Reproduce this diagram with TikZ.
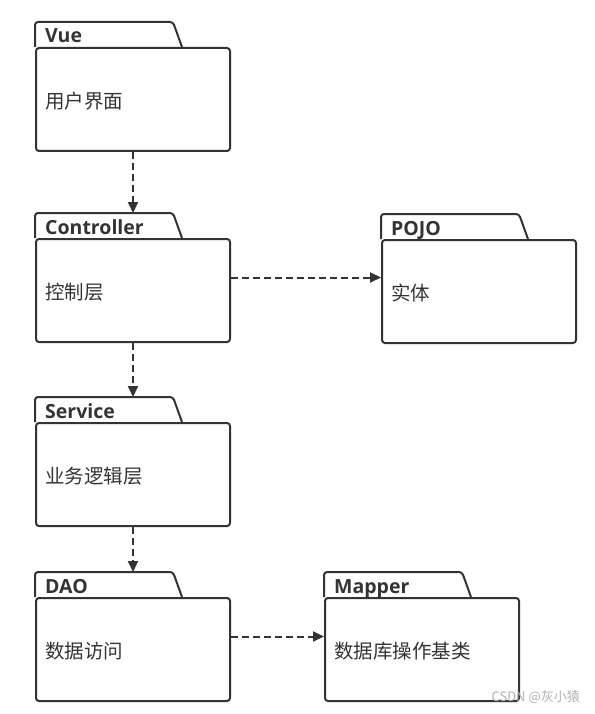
\documentclass[tikz,border=0pt]{standalone}
\usepackage{fontspec}
\setmainfont{Noto Sans CJK SC}
\newfontfamily\titlefont{Open Sans}
\usetikzlibrary{arrows.meta}
\definecolor{ink}{HTML}{333333}
\begin{document}
\begin{tikzpicture}[x=1pt,y=-1pt,
  box/.style={draw=ink, line width=2pt, rounded corners=3pt, minimum width=194pt, minimum height=103pt, anchor=north west, inner sep=0pt},
  tab/.style={draw=ink, line width=2pt, rounded corners=3pt},
  ttl/.style={anchor=base west, inner sep=0pt, text=ink, font=\titlefont\bfseries\fontsize{19.5}{22}\selectfont},
  lbl/.style={anchor=west, inner sep=0pt, text=ink, font=\fontsize{19.5}{22}\selectfont},
  dep/.style={draw=ink, line width=2pt, dash pattern=on 7pt off 4pt, -{Triangle[length=11pt,width=10pt]}}]
\useasboundingbox (0,0) rectangle (594,714);
% packages
\newcommand\pkgbox[5]{% name, x, y(body top), title, label
  \node[box] (#1) at (#2,#3) {};
  \draw[tab] (#1.north west) -- ++(0,-25) -- ++(138,0) -- ++(9,25);
  \coordinate (#1-t) at ([yshift=25pt]#1.north);
  \node[ttl] (#1-title) at (#2+10,#3-4) {#4};
  \node[lbl] (#1-lbl) at (#2+10,#3+54) {#5};
}
\pkgbox{vue}{35}{47}{Vue}{用户界面}
\pkgbox{ctrl}{35}{238}{Controller}{控制层}
\pkgbox{pojo}{381}{239}{POJO}{实体}
\pkgbox{svc}{35}{422}{Service}{业务逻辑层}
\pkgbox{dao}{35}{597}{DAO}{数据访问}
\pkgbox{mapper}{324}{597}{Mapper}{数据库操作基类}
% dependencies
\draw[dep] (vue.south) -- (ctrl-t);
\draw[dep] (ctrl.south) -- (svc-t);
\draw[dep] (svc.south) -- (dao-t);
\draw[dep] ([yshift=13pt]ctrl.east) -- ([yshift=13pt]ctrl.east -| pojo.west);
\draw[dep] ([yshift=13pt]dao.east) -- ([yshift=13pt]dao.east -| mapper.west);
% watermark
\node[anchor=east, inner sep=0pt, text=gray!60, font=\fontsize{13}{15}\selectfont] (wm) at (580,697) {CSDN @灰小猿};
\end{tikzpicture}
\end{document}
